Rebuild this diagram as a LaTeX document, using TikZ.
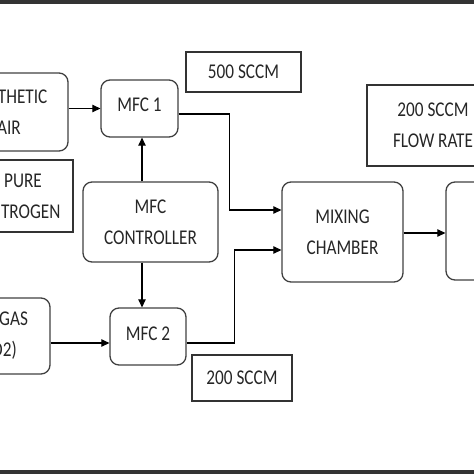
\documentclass[tikz,border=0pt]{standalone}
\usepackage{fontspec}
\setmainfont[FakeStretch=0.82]{Carlito}
\usetikzlibrary{arrows.meta}
\begin{document}
\begin{tikzpicture}[x=1pt, y=-1pt,
    every node/.style={font=\fontsize{21}{31}\selectfont, text=black!85},
    blk/.style={draw=black!75, line width=1.3pt, rounded corners=9pt, align=center, inner sep=0pt},
    rate/.style={draw=black!80, line width=1.1pt, align=center, inner sep=0pt},
    flow/.style={line width=1.1pt, -{Triangle[length=8pt, width=7.5pt]}}]
  \useasboundingbox (0, 0) rectangle (474, 474);
  \clip (0, 0) rectangle (474, 474);
  % frame
  \draw[line width=3.5pt, black!80] (0, 2) -- (474, 2);
  \draw[line width=3.5pt, black!80] (0, 472) -- (474, 472);
  % gas sources and controller
  \node[blk, minimum width=118pt, minimum height=78pt] (air) at (9, 112) {SYNTHETIC\\AIR};
  \node[rate, minimum width=100pt, minimum height=72pt] (nitro) at (23, 196) {PURE\\NITROGEN};
  \node[blk, minimum width=108pt, minimum height=76pt] (gas) at (-4, 336) {NO2 GAS\\(NO2)};
  \node[blk, minimum width=135pt, minimum height=80pt] (ctrl) at (150.5, 222) {MFC\\CONTROLLER};
  \node[blk, minimum width=77pt, minimum height=57pt, text depth=7pt] (mfc1) at (139.5, 108.5) {MFC 1};
  \node[blk, minimum width=76pt, minimum height=57pt, text depth=5pt] (mfc2) at (148, 336.5) {MFC 2};
  % flow rates
  \node[rate, minimum width=115pt, minimum height=40pt] (sccm1) at (243.5, 72) {500 SCCM};
  \node[rate, minimum width=100pt, minimum height=46pt] (sccm2) at (242, 378) {200 SCCM};
  \node[rate, minimum width=132pt, minimum height=81pt] (flowrate) at (433, 125.5) {200 SCCM\\FLOW RATE};
  % chambers
  \node[blk, minimum width=121pt, minimum height=100pt] (mix) at (342.5, 232) {MIXING\\CHAMBER};
  \node[blk, minimum width=121pt, minimum height=98pt] (sensor) at (506.5, 231) {SENSOR};
  % connections
  \draw[flow] (air.east |- mfc1.west) -- (mfc1.west);
  \draw[flow] ([yshift=-6.5pt]mfc2.west -| gas.east) -- ([yshift=-6.5pt]mfc2.west);
  \draw[flow] ([xshift=-8.5pt]ctrl.north) -- ([xshift=-8.5pt]ctrl.north |- mfc1.south);
  \draw[flow] ([xshift=-8.5pt]ctrl.south) -- ([xshift=-8.5pt]ctrl.south |- mfc2.north);
  \draw[flow] ([yshift=-5.5pt]mfc1.east) -- ++(51, 0) |- ([yshift=22pt]mix.west);
  \draw[flow] ([yshift=-6.5pt]mfc2.east) -- ++(48, 0) |- ([yshift=-18pt]mix.west);
  \draw[flow] ([yshift=-1pt]mix.east) -- ([yshift=-1pt]mix.east -| sensor.west);
\end{tikzpicture}
\end{document}
